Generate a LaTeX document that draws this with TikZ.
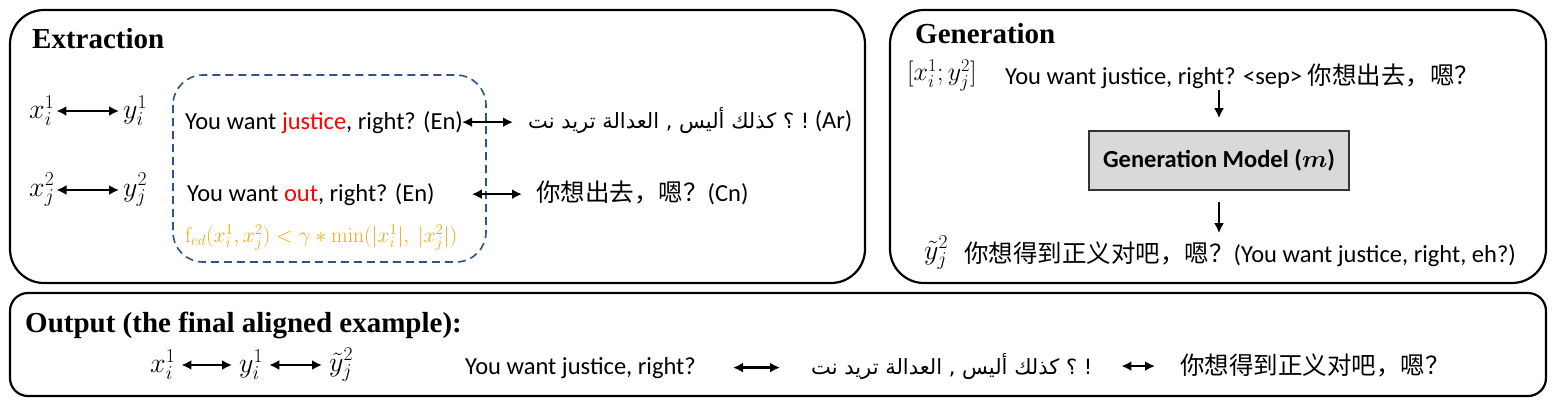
\RequirePackage{fix-cm}
\documentclass[tikz,border=0pt]{standalone}
\usepackage[no-math]{fontspec}
\setmainfont{Carlito}
\newfontfamily\titlefont{Liberation Serif}
\newfontfamily\cjk{Noto Sans CJK SC}
\newfontfamily\arabicfont[Script=Arabic]{DejaVu Sans}
\TeXXeTstate=1
\usetikzlibrary{arrows.meta}
\definecolor{dashblue}{RGB}{47,82,143}
\definecolor{goldc}{RGB}{236,172,20}
\definecolor{boxgray}{RGB}{217,217,217}
\newcommand\arw[1]{\beginR#1\endR}
\newcommand\arsent{{\arabicfont\fontsize{21}{25}\selectfont\arw{نت} \arw{تريد} \arw{العدالة} , \arw{أليس} \arw{كذلك} ؟ !}}
\begin{document}
\begin{tikzpicture}[x=1pt,y=-1pt,
  panel/.style={draw, line width=2.2pt, rounded corners=34pt},
  txt/.style={font=\fontsize{24.5}{29}\selectfont, inner sep=0pt, anchor=base west},
  mth/.style={font=\fontsize{28}{32}\selectfont, inner sep=0pt, anchor=west},
  ttl/.style={font=\titlefont\bfseries\fontsize{29}{33}\selectfont, inner sep=0pt, anchor=base west},
  darr/.style={{Latex[length=10pt,width=10pt]}-{Latex[length=10pt,width=10pt]}, line width=2.4pt},
  sarr/.style={-{Latex[length=10pt,width=10pt]}, line width=2.4pt},
  dashbox/.style={draw=dashblue, line width=1.6pt, dash pattern=on 8pt off 5pt, rounded corners=30pt},
  modelbox/.style={draw=black!80, fill=boxgray, line width=1.6pt, minimum width=260pt, minimum height=59pt, inner sep=0pt, font=\bfseries\fontsize{24.5}{29}\selectfont}
]
\useasboundingbox (0,0) rectangle (1555,405);
\fill[white] (0,0) rectangle (1555,405);

% ---------- Extraction ----------
\draw[panel] (10,10) rectangle (865,283);
\node[ttl] (ttlE) at (32,48) {Extraction};
\draw[dashbox] (173,75) rectangle (486,262);

\node[mth] (x1) at (29,111) {$x_i^1$};
\node[mth] (y1) at (123,111) {$y_i^1$};
\draw[darr, shorten <=2pt, shorten >=4pt] (x1.east) -- (x1.east -| y1.west);

\node[txt] (en1) at (185,129) {You want \textcolor{red}{justice}, right? (En)};
\node[txt] (ar1) at (528,128) {\arsent\ (Ar)};
\draw[darr, shorten <=-1pt, shorten >=15pt] (en1.east) -- (en1.east -| ar1.west);

\node[mth] (x2) at (29,190) {$x_j^2$};
\node[mth] (y2) at (123,190) {$y_j^2$};
\draw[darr, shorten <=2pt, shorten >=4pt] (x2.east) -- (x2.east -| y2.west);

\node[txt] (en2) at (187,201) {You want \textcolor{red}{out}, right? (En)};
\node[txt] (cn2) at (536,201) {{\cjk 你想出去，嗯？}(Cn)};
\draw[darr, shorten <=37pt, shorten >=14pt] (en2.east) -- (en2.east -| cn2.west);

\node[mth, text=goldc, font=\fontsize{21.5}{25}\selectfont] (fed) at (185,238)
  {$\mathrm{f}_{ed}\bigl(x_i^1, x_j^2\bigr) < \gamma * \min\bigl(\bigl|x_i^1\bigr|,\ \bigl|x_j^2\bigr|\bigr)$};

% ---------- Generation ----------
\draw[panel] (890,10) rectangle (1546,283);
\node[ttl] (ttlG) at (915,43) {Generation};
\node[mth, font=\fontsize{26}{30}\selectfont] (gin) at (907,75) {$[x_i^1; y_j^2]$};
\node[txt] (gtext) at (1005,84) {You want justice, right? <sep> {\cjk 你想出去，嗯？}};
\node[modelbox] (model) at (1219,160.5) {Generation Model ({\boldmath$m$})};
\draw[sarr, shorten <=2pt, shorten >=12pt] (gtext.south -| model.north) -- (model.north);
\node[mth] (gy) at (924,253) {$\tilde{y}_j^2$};
\node[txt] (gout) at (964,262) {{\cjk 你想得到正义对吧，嗯？}(You want justice, right, eh?)};
\draw[sarr, shorten <=11pt, shorten >=8pt] (model.south) -- (model.south |- gout.north);

% ---------- Output ----------
\draw[panel, rounded corners=18pt] (10,293) rectangle (1546,396);
\node[ttl] (ttlO) at (25,332) {Output (the final aligned example):};
\node[mth] (ox) at (150,365) {$x_i^1$};
\node[mth] (oy) at (239,365) {$y_i^1$};
\node[mth] (oyt) at (329,365) {$\tilde{y}_j^2$};
\draw[darr, shorten <=6pt, shorten >=7pt] (ox.east) -- (ox.east -| oy.west);
\draw[darr, shorten <=6pt, shorten >=7pt] (oy.east) -- (oy.east -| oyt.west);
\node[txt] (oen) at (465,374) {You want justice, right?};
\node[txt] (oar) at (811,374) {\arsent};
\node[txt] (ocn) at (1180,374) {\cjk 你想得到正义对吧，嗯？};
\draw[darr, shorten <=37pt, shorten >=31pt] (oen.east) -- (oen.east -| oar.west);
\draw[darr, shorten <=29pt, shorten >=25pt] (oar.east) -- (oar.east -| ocn.west);
\end{tikzpicture}
\end{document}
